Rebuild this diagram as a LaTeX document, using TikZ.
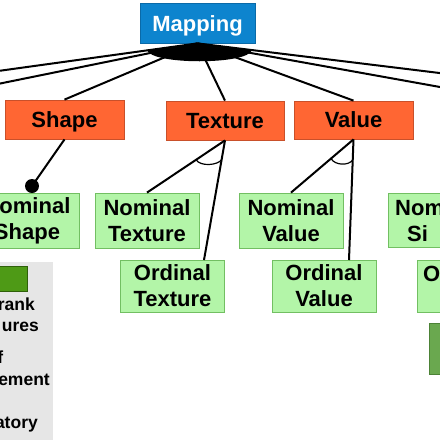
\documentclass[tikz,border=0pt]{standalone}
\usepackage{fontspec}
\setmainfont{Liberation Sans}
\usetikzlibrary{calc}
\definecolor{mapblue}{HTML}{0D84CE}
\definecolor{mapborder}{HTML}{0A6AA8}
\definecolor{orfill}{HTML}{FF6633}
\definecolor{orborder}{HTML}{C9502A}
\definecolor{gfill}{HTML}{B3F5A8}
\definecolor{gborder}{HTML}{72BF62}
\definecolor{dgfill}{HTML}{6AA84F}
\definecolor{dgborder}{HTML}{4C8236}
\definecolor{legfill}{HTML}{4E9A16}
\definecolor{legborder}{HTML}{2F600A}
\definecolor{leggray}{HTML}{E6E6E6}
\begin{document}
\begin{tikzpicture}[x=1pt,y=-1pt,
  every node/.style={font=\fontsize{22}{26}\selectfont\bfseries, inner sep=0pt, align=center},
  mapbox/.style={draw=mapborder, fill=mapblue, text=white, line width=0.8pt, minimum width=115pt, minimum height=40pt, text height=17pt, text depth=0pt},
  orbox/.style={draw=orborder, fill=orfill, line width=0.8pt, minimum width=119pt, minimum height=39pt, text height=15.5pt, text depth=0pt},
  gbox/.style={draw=gborder, fill=gfill, line width=0.8pt, minimum width=104pt, minimum height=55pt},
  dgbox/.style={draw=dgborder, fill=dgfill, line width=0.8pt, minimum width=92pt, minimum height=51pt},
  legbox/.style={draw=legborder, fill=legfill, line width=0.8pt, minimum width=44pt, minimum height=25pt},
  conn/.style={line width=2pt, black},
  arcline/.style={line width=1.2pt, black},
  legtext/.style={font=\fontsize{17.5}{20}\selectfont\bfseries, anchor=base east},
  frag/.style={anchor=base west}]
\useasboundingbox (0,0) rectangle (440,440);
\clip (0,0) rectangle (440,440);
\fill[white] (0,0) rectangle (440,440);

% legend background
\fill[leggray] (0,262) rectangle (53,445);
\node[legbox] (legrect) at (5,278.5) {};
\node[legtext] (lt1) at (35,310) {rank};
\node[legtext] (lt2) at (39,331) {ures};
\node[legtext] (lt3) at (3.5,363) {f};
\node[legtext] (lt4) at (50,385) {ement};
\node[legtext] (lt5) at (38,428) {atory};

% nodes
\node[mapbox] (map) at (197.5,23) {Mapping};
\node[orbox] (shape) at (64.5,119.5) {Shape};
\node[orbox, minimum width=118pt] (tex) at (225,120.5) {Texture};
\node[orbox, minimum height=38pt] (val) at (353.5,120) {Value};

\node[gbox] (ns) at (27,220.5) {Nominal\\Shape};
\node[gbox] (nt) at (147,220.5) {Nominal\\Texture};
\node[gbox] (nv) at (291,220.5) {Nominal\\Value};
\node[gbox, minimum height=52pt] (ot) at (172.5,286) {Ordinal\\Texture};
\node[gbox, minimum height=52pt] (ov) at (324,286) {Ordinal\\Value};

\node[gbox, minimum height=54pt] (nsz) at (440,220) {};
\node[frag] (nsz1) at (395,215) {Nom};
\node[frag] (nsz2) at (407,241) {Si};
\node[gbox, minimum height=52pt] (osz) at (469,286) {};
\node[frag] (osz1) at (423,281) {O};
\node[dgbox] (dg) at (475,348.5) {};

% mapping fan
\coordinate (apex) at (map.south);
\coordinate (l1) at (-20,73.5);
\coordinate (l2) at (-20,87.6);
\coordinate (r1) at (460,75.5);
\coordinate (r2) at (460,90.6);
\draw[conn] (apex) -- (l1);
\draw[conn] (apex) -- (l2);
\draw[conn] (apex) -- (r1);
\draw[conn] (apex) -- (r2);
\draw[conn] (apex) -- (shape.north);
\draw[conn] (apex) -- (tex.north);
\draw[conn] (apex) -- (val.north);
\fill[black] (147,50) .. controls (151,65) and (248,65) .. (252,50) -- (apex) -- cycle;

% shape mandatory
\node[circle, fill=black, minimum size=14pt] (dot) at (32,186) {};
\draw[conn] (shape.south) -- (dot.center);

% texture alternative
\coordinate (otin) at (204,260);
\draw[conn] (tex.south) -- (nt.north);
\draw[conn] (tex.south) -- (otin);
\coordinate (ta) at ($(tex.south)!0.37!(nt.north)$);
\coordinate (tb) at ($(tex.south)!0.16!(otin)$);
\draw[arcline] (ta) .. controls ($(ta)+(4,7)$) and ($(tb)+(-4,6)$) .. (tb);

% value alternative
\coordinate (ovin) at (349,260);
\draw[conn] (val.south) -- (nv.north);
\draw[conn] (val.south) -- (ovin);
\coordinate (va) at ($(val.south)!0.36!(nv.north)$);
\coordinate (vb) at ($(val.south)!0.17!(ovin)$);
\draw[arcline] (va) .. controls ($(va)+(4,7)$) and ($(vb)+(-4,6)$) .. (vb);
\end{tikzpicture}
\end{document}
